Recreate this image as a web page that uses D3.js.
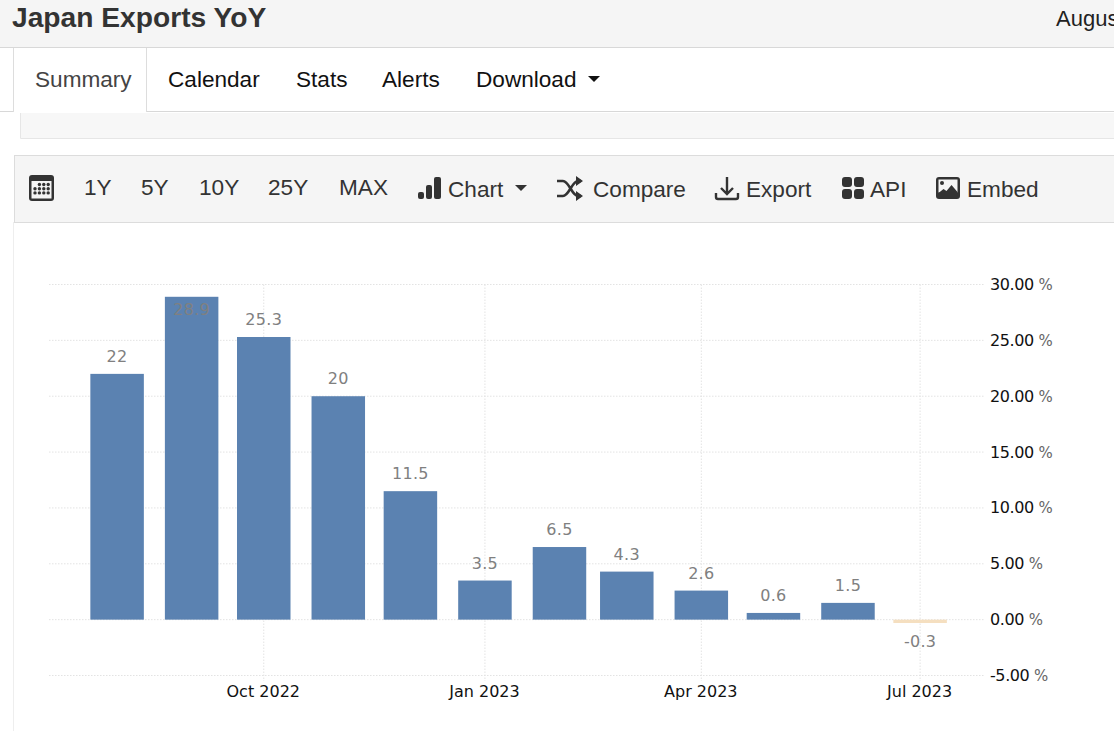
<!DOCTYPE html>
<html>
<head>
<meta charset="utf-8">
<title>Japan Exports YoY</title>
<script src="https://d3js.org/d3.v7.min.js"></script>
<style>
html, body { margin: 0; padding: 0; background: #fff; overflow: hidden; }
svg { display: block; }
.ui { font-family: "Liberation Sans", Arial, sans-serif; }
.ax { font-family: "DejaVu Sans", sans-serif; }
</style>
</head>
<body>
<div id="chart"></div>
<script>
// chart values
var months = ["2022-08","2022-09","2022-10","2022-11","2022-12","2023-01","2023-02","2023-03","2023-04","2023-05","2023-06","2023-07"];
var values = [22, 28.9, 25.3, 20, 11.5, 3.5, 6.5, 4.3, 2.6, 0.6, 1.5, -0.3];
var yTicks = [-5, 0, 5, 10, 15, 20, 25, 30];
var xTickMonths = ["2022-10","2023-01","2023-04","2023-07"];
var xTickLabels = ["Oct 2022","Jan 2023","Apr 2023","Jul 2023"];
var tabs = ["Summary","Calendar","Stats","Alerts","Download"];
var tabX = [35, 168, 296, 382, 476];
var ranges = ["1Y","5Y","10Y","25Y","MAX"];
var rangeX = [84, 141, 199, 268, 339];

// constants for the layout
var width = 1114, height = 731;
var bar_width = 53.5;
var pos_color = "#5b82b1", neg_color = "#f5dfc0";

var parse = d3.utcParse("%Y-%m");
var x = d3.scaleUtc().domain([parse(months[0]), parse(months[11])]).range([117.1, 920.1]);
var y = d3.scaleLinear().domain([-5, 30]).range([675.5, 284.5]);

var svg = d3.select("#chart").append("svg").attr("width", width).attr("height", height);

/* page chrome */
svg.append("rect").attr("width", width).attr("height", 47).attr("fill", "#f5f5f5");
svg.append("rect").attr("y", 47).attr("width", width).attr("height", 1).attr("fill", "#d8d8d8");
svg.append("text").attr("class", "ui").attr("x", 12).attr("y", 27)
    .attr("font-size", 28.2).attr("font-weight", "bold").attr("fill", "#333").text("Japan Exports YoY");
svg.append("text").attr("class", "ui").attr("x", 1056).attr("y", 26)
    .attr("font-size", 22).attr("fill", "#222").text("August");

// tab row
svg.append("rect").attr("y", 111).attr("width", width).attr("height", 1).attr("fill", "#d8d8d8");
svg.append("rect").attr("x", 13).attr("y", 48).attr("width", 134).attr("height", 65)
    .attr("fill", "#fff");
svg.append("path").attr("d", "M13.5,48V112M146.5,48V112").attr("stroke", "#ddd").attr("fill", "none");
svg.selectAll(".tab").data(tabs).enter().append("text")
    .attr("class", "ui tab")
    .attr("x", function(d, i) { return tabX[i]; })
    .attr("y", 87)
    .attr("font-size", 22.6)
    .attr("fill", function(d, i) { return i == 0 ? "#444" : "#111"; })
    .text(function(d) { return d; });
svg.append("path").attr("d", "M588,76h12l-6,6z").attr("fill", "#111");

// empty panel under the tabs
svg.append("rect").attr("x", 20).attr("y", 113).attr("width", 1094).attr("height", 25)
    .attr("fill", "#f7f7f7");
svg.append("path").attr("d", "M20.5,113V138.5H1114").attr("fill", "none").attr("stroke", "#e6e6e6");

// faint page edge below the toolbar
svg.append("line").attr("x1", 13.5).attr("x2", 13.5).attr("y1", 222).attr("y2", height)
    .attr("stroke", "#eeeeee");

// toolbar
svg.append("rect").attr("x", 14.5).attr("y", 155.5).attr("width", 1110).attr("height", 67)
    .attr("fill", "#f5f5f5").attr("stroke", "#dcdcdc");
svg.selectAll(".range").data(ranges).enter().append("text")
    .attr("class", "ui range")
    .attr("x", function(d, i) { return rangeX[i]; })
    .attr("y", 195)
    .attr("font-size", 22.6)
    .attr("fill", "#333")
    .text(function(d) { return d; });

var tools = [
    {label: "Chart", x: 448},
    {label: "Compare", x: 593},
    {label: "Export", x: 746},
    {label: "API", x: 870},
    {label: "Embed", x: 967}
];
svg.selectAll(".tool").data(tools).enter().append("text")
    .attr("class", "ui tool")
    .attr("x", function(d) { return d.x; })
    .attr("y", 197)
    .attr("font-size", 22.6)
    .attr("fill", "#333")
    .text(function(d) { return d.label; });

var icons = svg.append("g").attr("fill", "#333");
// calendar
icons.append("rect").attr("x", 29).attr("y", 175).attr("width", 25).attr("height", 26).attr("rx", 3);
icons.append("rect").attr("x", 31.5).attr("y", 181).attr("width", 20).attr("height", 17.5).attr("fill", "#f5f5f5");
var dots = icons.append("g");
[0, 1, 2].forEach(function(r) {
    [0, 1, 2, 3].forEach(function(c) {
        if (r == 0 && c == 0) return;
        dots.append("circle").attr("cx", 35 + c * 4.4).attr("cy", 184.5 + r * 4.2).attr("r", 1.7);
    });
});
// bar chart
icons.append("rect").attr("x", 418).attr("y", 192).attr("width", 6).attr("height", 7).attr("rx", 2);
icons.append("rect").attr("x", 426).attr("y", 185).attr("width", 6).attr("height", 14).attr("rx", 2);
icons.append("rect").attr("x", 434).attr("y", 177).attr("width", 7).attr("height", 22).attr("rx", 2);
icons.append("path").attr("d", "M515,185h12l-6,6z");
// compare
svg.append("path")
    .attr("d", "M557,181h6c6,0,9,15,15,15h3M557,196h6c6,0,9,-15,15,-15h3")
    .attr("fill", "none").attr("stroke", "#333").attr("stroke-width", 2.6);
icons.append("path").attr("d", "M576,176l7,5l-7,5zM576,191l7,5l-7,5z");
// export
svg.append("path")
    .attr("d", "M727,177v16M721,188l6,6l6,-6M716,193v4q0,2,2,2h18q2,0,2,-2v-4")
    .attr("fill", "none").attr("stroke", "#333").attr("stroke-width", 2.4);
// api
[[842, 177], [854, 177], [842, 189], [854, 189]].forEach(function(p) {
    icons.append("rect").attr("x", p[0]).attr("y", p[1]).attr("width", 10).attr("height", 10).attr("rx", 3);
});
// embed
icons.append("rect").attr("x", 936).attr("y", 177).attr("width", 24).attr("height", 22).attr("rx", 3);
icons.append("rect").attr("x", 938.5).attr("y", 179.5).attr("width", 19).attr("height", 13).attr("fill", "#f5f5f5");
icons.append("circle").attr("cx", 942).attr("cy", 183).attr("r", 2);
icons.append("path").attr("d", "M938.5,193l5,-4l3,2l5,-6l6,7v1z");

/* the chart */
var grid = svg.append("g").attr("stroke", "#e3e3e3").attr("stroke-dasharray", "1.5,1.5").attr("fill", "none");
grid.selectAll(".hgrid").data(yTicks).enter().append("line")
    .attr("class", "hgrid")
    .attr("x1", 49).attr("x2", 985)
    .attr("y1", function(d) { return y(d); })
    .attr("y2", function(d) { return y(d); });
grid.selectAll(".vgrid").data(xTickMonths).enter().append("line")
    .attr("class", "vgrid")
    .attr("x1", function(d) { return x(parse(d)); })
    .attr("x2", function(d) { return x(parse(d)); })
    .attr("y1", 284.5).attr("y2", 681);

svg.selectAll(".bar").data(values).enter().append("rect")
    .attr("class", "bar")
    .attr("x", function(d, i) { return x(parse(months[i])) - bar_width / 2; })
    .attr("width", bar_width)
    .attr("y", function(d) { return d < 0 ? y(0) : y(d); })
    .attr("height", function(d) { return Math.abs(y(d) - y(0)); })
    .attr("fill", function(d) { return d < 0 ? neg_color : pos_color; });

// value labels, the tallest one is pushed down into its bar
svg.selectAll(".val").data(values).enter().append("text")
    .attr("class", "ax val")
    .attr("x", function(d, i) { return x(parse(months[i])); })
    .attr("y", function(d) {
        if (d < 0) return y(d) + 24;
        return Math.max(y(d) - 12, 315);
    })
    .attr("text-anchor", "middle")
    .attr("font-size", 16)
    .attr("letter-spacing", 0.3)
    .attr("fill", "#808080")
    .text(function(d) { return d; });

// y axis labels, plain hyphen on the negative one like the original
var yLabels = svg.selectAll(".ylab").data(yTicks).enter().append("text")
    .attr("class", "ax ylab")
    .attr("x", 990)
    .attr("y", function(d) { return y(d) + 5.5; })
    .attr("font-size", 16)
    .attr("letter-spacing", -0.4)
    .attr("fill", "#111");
yLabels.append("tspan").text(function(d) { return d.toFixed(2) + " "; });
yLabels.append("tspan").attr("fill", "#666").attr("font-size", 15).text("%");

// x axis labels
svg.selectAll(".xlab").data(xTickMonths).enter().append("text")
    .attr("class", "ax xlab")
    .attr("x", function(d) { return x(parse(d)) - 0.5; })
    .attr("y", 697)
    .attr("text-anchor", "middle")
    .attr("font-size", 16)
    .attr("fill", "#111")
    .text(function(d, i) { return xTickLabels[i]; });
</script>
</body>
</html>
